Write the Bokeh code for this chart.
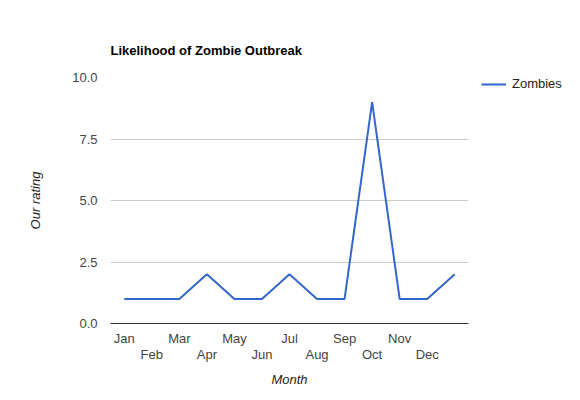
from bokeh.plotting import figure
from bokeh.models import (Range1d, LinearAxis, FixedTicker, Legend, LegendItem,
                          NumeralTickFormatter)
from bokeh.embed import file_html
from bokeh.resources import INLINE

months = ["Jan", "Feb", "Mar", "Apr", "May", "Jun", "Jul", "Aug", "Sep",
          "Oct", "Nov", "Dec", ""]
zombies = [1, 1, 1, 2, 1, 1, 2, 1, 1, 9, 1, 1, 2]
y_ticks = [0, 2.5, 5, 7.5, 10]

title_text = "Likelihood of Zombie Outbreak"
x_title = "Month"
y_title = "Our rating"
series_name = "Zombies"

FONT = "Liberation Sans"
x = list(range(len(months)))

p = figure(frame_width=358, frame_height=246, output_backend="svg",
           toolbar_location=None,
           x_range=Range1d(-0.5, len(months) - 0.5), y_range=Range1d(0, 10),
           x_axis_location=None, y_axis_location=None,
           min_border_left=110, min_border_right=111,
           min_border_top=77, min_border_bottom=77)
p.outline_line_color = None
p.background_fill_color = "white"
p.border_fill_color = "white"

p.title.text = title_text
p.title.text_font = FONT
p.title.text_font_size = "13px"
p.title.text_font_style = "bold"
p.title.text_color = "#000000"
p.title.align = "left"
p.title.offset = 0
p.title.standoff = 40

# y axis
yax = LinearAxis(ticker=FixedTicker(ticks=y_ticks),
                 formatter=NumeralTickFormatter(format="0.0"))
yax.axis_line_color = None
yax.major_tick_line_color = None
yax.minor_tick_line_color = None
yax.major_tick_out = 0
yax.major_label_standoff = 13
yax.major_label_text_font = FONT
yax.major_label_text_font_size = "13px"
yax.major_label_text_color = "#444444"
yax.axis_label = y_title
yax.axis_label_text_font = FONT
yax.axis_label_text_font_size = "13px"
yax.axis_label_text_font_style = "italic"
yax.axis_label_text_color = "#222222"
yax.axis_label_standoff = 26
p.add_layout(yax, "left")

# x axes (two rows of labels)
odd = [i for i in x if i % 2 == 0]
even = [i for i in x if i % 2 == 1]
xax1 = LinearAxis(ticker=FixedTicker(ticks=odd),
                  major_label_overrides={i: months[i] for i in odd})
xax1.axis_line_color = "#333333"
xax1.axis_line_width = 1
xax1.major_tick_line_color = None
xax1.minor_tick_line_color = None
xax1.major_tick_out = 0
xax1.major_tick_in = 0
xax1.major_label_standoff = 7
xax1.major_label_text_font = FONT
xax1.major_label_text_font_size = "13px"
xax1.major_label_text_color = "#444444"
p.add_layout(xax1, "below")

xax2 = LinearAxis(ticker=FixedTicker(ticks=even),
                  major_label_overrides={i: months[i] for i in even})
xax2.axis_line_color = None
xax2.major_tick_line_color = None
xax2.minor_tick_line_color = None
xax2.major_tick_out = 0
xax2.major_tick_in = 0
xax2.major_label_standoff = -2
xax2.major_label_text_font = FONT
xax2.major_label_text_font_size = "13px"
xax2.major_label_text_color = "#444444"
xax2.axis_label = x_title
xax2.axis_label_text_font = FONT
xax2.axis_label_text_font_size = "13px"
xax2.axis_label_text_font_style = "italic"
xax2.axis_label_text_color = "#222222"
xax2.axis_label_standoff = 7
p.add_layout(xax2, "below")

p.xgrid.visible = False
p.ygrid.ticker = FixedTicker(ticks=y_ticks[1:])
p.ygrid.grid_line_color = "#cccccc"
p.ygrid.grid_line_width = 1

r = p.line(x, zombies, line_color="#3366cc", line_width=2)

legend = Legend(items=[LegendItem(label=series_name, renderers=[r])],
                location=(13, 232))
legend.margin = 0
legend.padding = 0
legend.border_line_color = None
legend.background_fill_alpha = 0
legend.glyph_width = 25
legend.glyph_height = 10
legend.label_height = 10
legend.label_standoff = 6
legend.label_text_font = FONT
legend.label_text_font_size = "13px"
legend.label_text_color = "#222222"
p.add_layout(legend, "right")

open("out.html", "w").write(file_html(p, INLINE))
